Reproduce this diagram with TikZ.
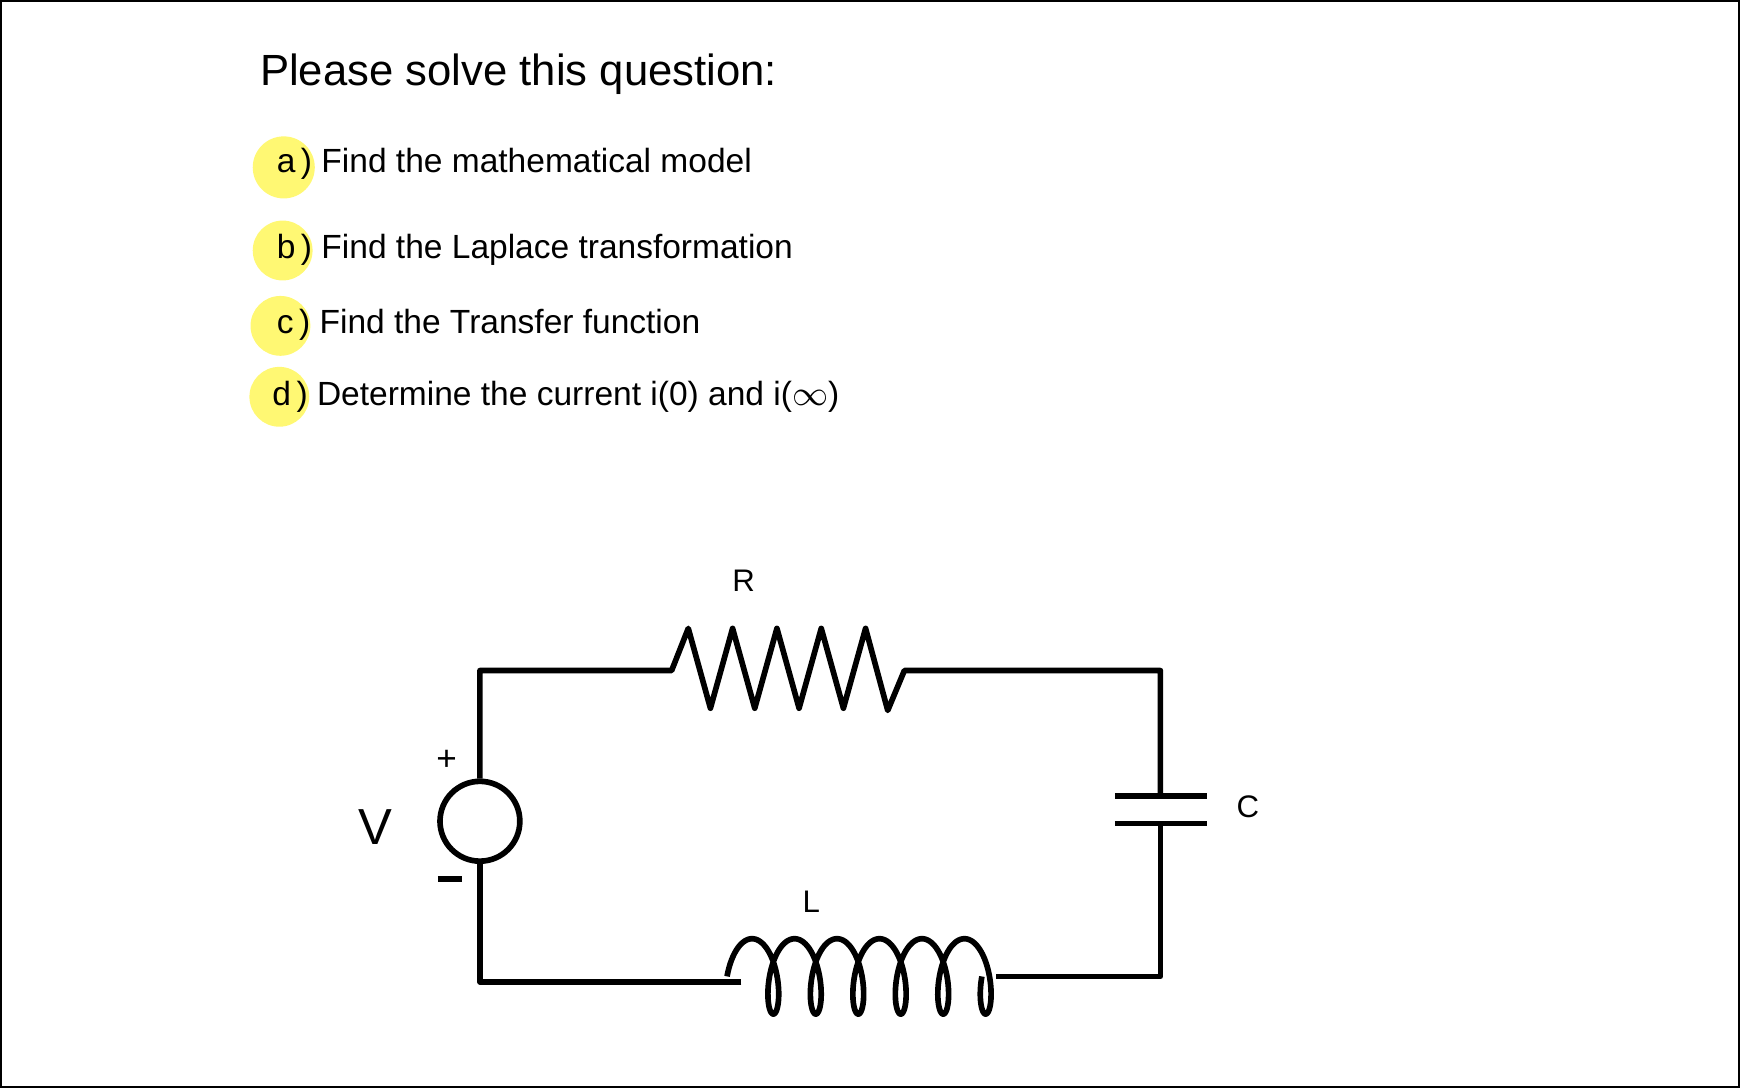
\documentclass[tikz,border=0pt]{standalone}
\usepackage{fontspec}
\setmainfont{Liberation Sans}
\begin{document}
\begin{tikzpicture}[x=0.01cm,y=-0.01cm,
  wire/.style={line width=1.45pt,line join=round},
  hl/.style={fill=yellow!55,draw=none},
  item/.style={anchor=base west,inner sep=0,font=\fontsize{8.6pt}{10pt}\selectfont},
  lab/.style={font=\fontsize{8pt}{10pt}\selectfont}]
\draw[line width=0.6pt] (0,0) rectangle (1568,980);
\useasboundingbox (0,0) rectangle (1568,980);
% highlights
\fill[hl] (255,150) circle (28);
\fill[hl] (254,225) circle (27);
\fill[hl] (252,293) circle (27);
\fill[hl] (251,357) circle (27);
\node[item,font=\fontsize{11.2pt}{13pt}\selectfont] (title) at (233,76) {Please solve this question:};
\node[item] (a) at (248,155) {a\,) Find the mathematical model};
\node[item] (b) at (248,232) {b\,) Find the Laplace transformation};
\node[item] (c) at (248,300) {c\,) Find the Transfer function};
\node[item] (d) at (244,365) {d\,) Determine the current i(0) and i(\(\infty\))};
% circuit
\coordinate (tl) at (432,604);
\coordinate (r1) at (605,604);
\coordinate (r2) at (815,604);
\coordinate (tr) at (1046,604);
\coordinate (c1) at (1046,717);
\coordinate (c2) at (1046,742);
\coordinate (br) at (1046,880);
\coordinate (l2) at (898,880);
\coordinate (l1) at (668,885);
\coordinate (bl) at (432,885);
\node[circle,draw,line width=1.45pt,minimum size=0.72cm,inner sep=0] (src) at (432,740) {};
\draw[wire] (src.north) -- (tl) -- (r1)
  -- (620,566) -- (640,638) -- (660,566) -- (680,638) -- (700,566) -- (720,638) -- (740,566) -- (760,638) -- (780,566) -- (800,640) -- (r2)
  -- (tr) -- (c1);
\draw[wire] (1005,717) -- (1088,717);
\draw[wire] (1005,742) -- (1088,742);
\draw[wire] (c2) -- (br) -- (l2);
\draw[wire] (l1) -- (bl) -- (src.south);
\draw[wire] plot[domain=0.5*pi:12.5*pi,samples=500,variable=\t]
  ({668+6.1*(\t-0.5*pi)-13*sin(\t r)},{880+34*cos(\t r)});
\node[lab,font=\fontsize{9pt}{10pt}\selectfont] (plus) at (402,685) {+};
\draw[wire] (394,792) -- (416,792);
\node[font=\fontsize{13pt}{14pt}\selectfont] (V) at (338,745) {V};
\node[lab] (R) at (670,523) {R};
\node[lab] (L) at (731,813) {L};
\node[lab] (C) at (1125,727) {C};
\end{tikzpicture}
\end{document}
